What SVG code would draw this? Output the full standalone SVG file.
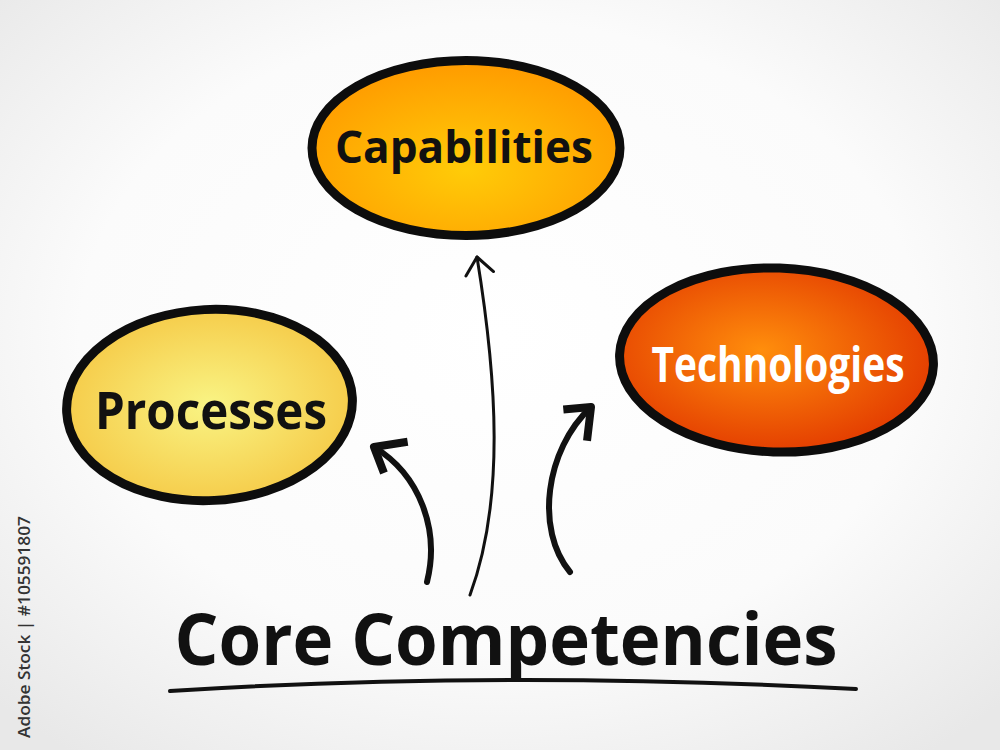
<svg xmlns="http://www.w3.org/2000/svg" width="1000" height="750" viewBox="0 0 1000 750">
  <defs>
    <radialGradient id="bg" cx="50%" cy="45%" r="70%">
      <stop offset="0" stop-color="#ffffff"/>
      <stop offset="0.6" stop-color="#fbfbfb"/>
      <stop offset="1" stop-color="#e8e8e8"/>
    </radialGradient>
    <radialGradient id="gCap" cx="50%" cy="62%" r="60%">
      <stop offset="0" stop-color="#ffcc08"/>
      <stop offset="1" stop-color="#ff9c00"/>
    </radialGradient>
    <radialGradient id="gProc" cx="50%" cy="50%" r="60%">
      <stop offset="0" stop-color="#f9f484"/>
      <stop offset="1" stop-color="#f5c540"/>
    </radialGradient>
    <radialGradient id="gTech" cx="45%" cy="45%" r="60%">
      <stop offset="0" stop-color="#ff8e0c"/>
      <stop offset="1" stop-color="#e23800"/>
    </radialGradient>
    <marker id="thin" markerUnits="userSpaceOnUse" orient="auto" overflow="visible" refX="0" refY="0" markerWidth="1" markerHeight="1">
      <path d="M -17 -14 L 0 0 L -17 14" fill="none" stroke="#111" stroke-width="3" stroke-linecap="round" stroke-linejoin="round"/>
    </marker>
    <marker id="thick" markerUnits="userSpaceOnUse" orient="auto" overflow="visible" refX="0" refY="0" markerWidth="1" markerHeight="1">
      <path d="M -22 -17 L 0 0 L -26 22" fill="none" stroke="#111" stroke-width="8" stroke-linecap="butt" stroke-linejoin="round"/>
    </marker>
    <style>
      .node { stroke: #0d0d0d; stroke-width: 9; }
      .lbl { font-family: "Open Sans", "Noto Sans", sans-serif; font-weight: 700; text-anchor: middle; }
      .conn { fill: none; stroke: #111; stroke-linecap: round; }
    </style>
  </defs>

  <rect x="0" y="0" width="1000" height="750" fill="url(#bg)"/>

  <g id="node-capabilities">
    <ellipse class="node" cx="466" cy="148" rx="154" ry="87.5" fill="url(#gCap)"/>
    <text class="lbl" x="464" y="163" font-size="44" fill="#111" textLength="258" lengthAdjust="spacingAndGlyphs">Capabilities</text>
  </g>

  <g id="node-processes">
    <ellipse class="node" cx="209.5" cy="405" rx="143" ry="95.5" fill="url(#gProc)" transform="rotate(-3 209.5 405)"/>
    <text class="lbl" x="211" y="429" font-size="52" fill="#111" textLength="232" lengthAdjust="spacingAndGlyphs">Processes</text>
  </g>

  <g id="node-technologies">
    <ellipse class="node" cx="776.5" cy="360" rx="157" ry="92" fill="url(#gTech)" transform="rotate(2 776.5 360)"/>
    <text class="lbl" x="778" y="382" font-size="48" fill="#ffffff" textLength="253" lengthAdjust="spacingAndGlyphs">Technologies</text>
  </g>

  <g id="connectors">
    <path class="conn" d="M 470 595 C 505 500, 497 380, 477 257" stroke-width="3" marker-end="url(#thin)"/>
    <path class="conn" d="M 427 582 C 440 530, 420 475, 374 447" stroke-width="6" marker-end="url(#thick)"/>
    <path class="conn" d="M 570 572 C 535 530, 545 450, 591 407" stroke-width="6" marker-end="url(#thick)"/>
  </g>

  <g id="title">
    <text class="lbl" x="506" y="665" font-size="72" fill="#111" textLength="663" lengthAdjust="spacingAndGlyphs">Core Competencies</text>
    <path d="M 170 691 Q 500 670 856 689" fill="none" stroke="#111" stroke-width="4" stroke-linecap="round"/>
  </g>

  <text transform="translate(30 738) rotate(-90)" font-family="Open Sans, Noto Sans, sans-serif" font-weight="600" font-size="17" fill="#333333" textLength="222" lengthAdjust="spacingAndGlyphs">Adobe Stock | #105591807</text>
</svg>
